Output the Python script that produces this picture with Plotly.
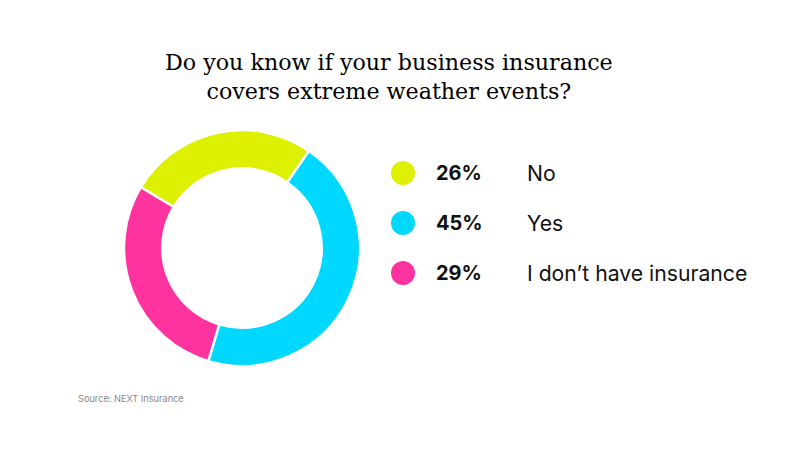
import plotly.graph_objects as go

categories = ["No", "Yes", "I don\u2019t have insurance"]
values = [26, 45, 29]
colors = ["#DDF000", "#00D8FF", "#FF33A0"]
title_text = "Do you know if your business insurance<br>covers extreme weather events?"
source_text = "Source: NEXT Insurance"

W, H = 802, 454
OFF = 8  # page body margin
cx, cy, r = 242 - OFF, 248 - OFF, 118

fig = go.Figure()
fig.add_trace(go.Pie(
    labels=categories, values=values, sort=False, direction="clockwise",
    rotation=-59, hole=0.675,
    marker=dict(colors=colors, line=dict(color="white", width=2.5)),
    textinfo="none", hoverinfo="label+percent", showlegend=False,
    domain=dict(x=[(cx - r) / W, (cx + r) / W], y=[(H - cy - r) / H, (H - cy + r) / H]),
))

# legend rows (coordinates in window pixels; axes offset by the body margin)
row_y0, row_dy = 173, 50
dot_x, pct_x, lab_x = 403, 434, 525
ys = [row_y0 + i * row_dy for i in range(len(categories))]
fig.add_trace(go.Scatter(
    x=[dot_x] * len(categories), y=ys, mode="markers",
    marker=dict(size=24, color=colors, line=dict(width=0)),
    hoverinfo="skip", showlegend=False, xaxis="x", yaxis="y",
))

annotations = []
for i, (c, v) in enumerate(zip(categories, values)):
    annotations.append(dict(x=pct_x, y=ys[i], xref="x", yref="y", text=f"<b>{v}%</b>",
                            showarrow=False, xanchor="left", yanchor="middle",
                            font=dict(family="Inter", size=20, color="#111111")))
    annotations.append(dict(x=lab_x, y=ys[i], xref="x", yref="y", text=c,
                            showarrow=False, xanchor="left", yanchor="middle",
                            font=dict(family="Inter", size=21.2, color="#111111")))
annotations.append(dict(x=389, y=76, xref="x", yref="y", text=title_text, showarrow=False,
                        xanchor="center", yanchor="middle", align="center",
                        font=dict(family="DejaVu Serif", size=22.2, color="#000000")))
annotations.append(dict(x=76, y=398, xref="x", yref="y", text=source_text, showarrow=False,
                        xanchor="left", yanchor="middle",
                        font=dict(family="Inter", size=9.2, color="#888888")))

fig.update_layout(
    width=W, height=H, margin=dict(l=0, r=0, t=0, b=0),
    paper_bgcolor="white", plot_bgcolor="rgba(0,0,0,0)",
    xaxis=dict(range=[OFF, W + OFF], visible=False, fixedrange=True),
    yaxis=dict(range=[H + OFF, OFF], visible=False, fixedrange=True),
    annotations=annotations,
)
fig.write_html("out.html")
